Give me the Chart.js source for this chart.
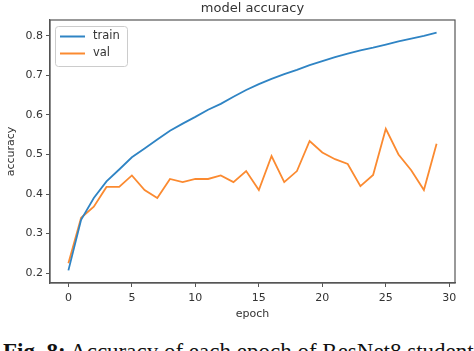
<!DOCTYPE html>
<html>
<head>
<meta charset="utf-8">
<script src="https://cdn.jsdelivr.net/npm/chart.js@4"></script>
<style>
  body { margin: 0; background: #fff; }
  #wrap { position: relative; width: 474px; height: 351px; overflow: hidden; }
  #chartBox { position: absolute; left: 0; top: 0; width: 474px; height: 325px; }
  #caption {
    position: absolute; left: 3px; top: 339px; white-space: nowrap;
    font-family: "Liberation Serif", serif; font-size: 23px; color: #111;
  }
</style>
</head>
<body>
<div id="wrap">
  <div id="chartBox"><canvas id="canvas" width="474" height="325"></canvas></div>
  <div id="caption"><b>Fig. 8:</b> Accuracy of each epoch of ResNet8 student network</div>
</div>
<script>
// epochs and accuracy values
const epochs = [0, 1, 2, 3, 4, 5, 6, 7, 8, 9, 10, 11, 12, 13, 14, 15, 16, 17, 18, 19, 20, 21, 22, 23, 24, 25, 26, 27, 28, 29];
const train = [0.207, 0.335, 0.39, 0.432, 0.462, 0.493, 0.515, 0.538, 0.56, 0.578, 0.595, 0.613, 0.628, 0.646, 0.663, 0.678, 0.691, 0.703, 0.714, 0.726, 0.736, 0.746, 0.755, 0.763, 0.77, 0.778, 0.786, 0.793, 0.80, 0.808];
const val = [0.225, 0.34, 0.368, 0.418, 0.418, 0.447, 0.41, 0.39, 0.438, 0.43, 0.438, 0.438, 0.447, 0.43, 0.458, 0.41, 0.496, 0.43, 0.458, 0.534, 0.505, 0.488, 0.476, 0.42, 0.448, 0.565, 0.50, 0.46, 0.41, 0.527];
const yTicks = [0.2, 0.3, 0.4, 0.5, 0.6, 0.7, 0.8];

const font = "'DejaVu Sans', sans-serif";
const txt = '#333';
const spine = '#555';

function pts(arr) {
    return epochs.map((e, i) => ({ x: e, y: arr[i] }));
}

// box around the plot (top/right spines) + legend box
const framePlugin = {
    id: 'frame',
    afterDatasetsDraw(chart) {
        const a = chart.chartArea;
        const c = chart.ctx;
        c.save();
        c.strokeStyle = spine;
        c.lineWidth = 1.2;
        c.strokeRect(a.left, a.top, a.right - a.left, a.bottom - a.top);

        // legend
        const bx = a.left + 5, by = a.top + 6, bw = 72, bh = 40;
        c.fillStyle = 'rgba(255,255,255,0.8)';
        c.strokeStyle = '#ccc';
        c.lineWidth = 1;
        c.beginPath();
        c.roundRect(bx + 0.5, by + 0.5, bw, bh, 3);
        c.fill();
        c.stroke();
        c.font = '11.5px ' + font;
        c.textBaseline = 'middle';
        chart.data.datasets.forEach((ds, i) => {
            const y = by + 10.5 + i * 17;
            c.strokeStyle = ds.borderColor;
            c.lineWidth = 2;
            c.beginPath();
            c.moveTo(bx + 5, y);
            c.lineTo(bx + 30, y);
            c.stroke();
            c.fillStyle = txt;
            c.fillText(ds.label, bx + 38, y);
        });
        c.restore();
    }
};

var config = {
    type: 'line',
    data: {
        datasets: [{
            label: 'train',
            data: pts(train),
            borderColor: '#2f84c4',
            borderWidth: 1.8,
            pointRadius: 0,
            tension: 0
        }, {
            label: 'val',
            data: pts(val),
            borderColor: '#fb8a30',
            borderWidth: 1.8,
            pointRadius: 0,
            tension: 0
        }]
    },
    options: {
        responsive: false,
        animation: false,
        layout: { padding: { left: 0, right: 19, top: 0, bottom: 0 } },
        plugins: {
            legend: { display: false },
            tooltip: { enabled: false },
            title: {
                display: true,
                text: 'model accuracy',
                fullSize: false,
                color: txt,
                font: { family: font, size: 13, weight: 'normal' },
                padding: { top: 1, bottom: 3.4 }
            }
        },
        scales: {
            x: {
                type: 'linear',
                min: -1.45,
                max: 30.45,
                afterFit(scale) { scale.height = 42; },
                border: { display: true, color: spine, width: 1.2 },
                grid: { drawOnChartArea: false, drawTicks: true, tickLength: 4, color: spine },
                ticks: {
                    stepSize: 5,
                    includeBounds: false,
                    color: txt,
                    padding: 5,
                    maxRotation: 0,
                    font: { family: font, size: 11 }
                },
                title: {
                    display: true,
                    text: 'epoch',
                    color: txt,
                    font: { family: font, size: 11 },
                    padding: { top: 0, bottom: 4 }
                }
            },
            y: {
                min: 0.175,
                max: 0.84,
                afterFit(scale) { scale.width = 50; },
                afterBuildTicks(scale) { scale.ticks = yTicks.map(v => ({ value: v })); },
                border: { display: true, color: spine, width: 1.2 },
                grid: { drawOnChartArea: false, drawTicks: true, tickLength: 4, color: spine },
                ticks: {
                    color: txt,
                    padding: 3,
                    font: { family: font, size: 11 },
                    callback: v => v.toFixed(1)
                },
                title: {
                    display: true,
                    text: 'accuracy',
                    color: txt,
                    font: { family: font, size: 11 },
                    padding: { top: 5, bottom: 0 }
                }
            }
        }
    },
    plugins: [framePlugin]
};

window.myLine = new Chart(document.getElementById('canvas').getContext('2d'), config);
</script>
</body>
</html>
